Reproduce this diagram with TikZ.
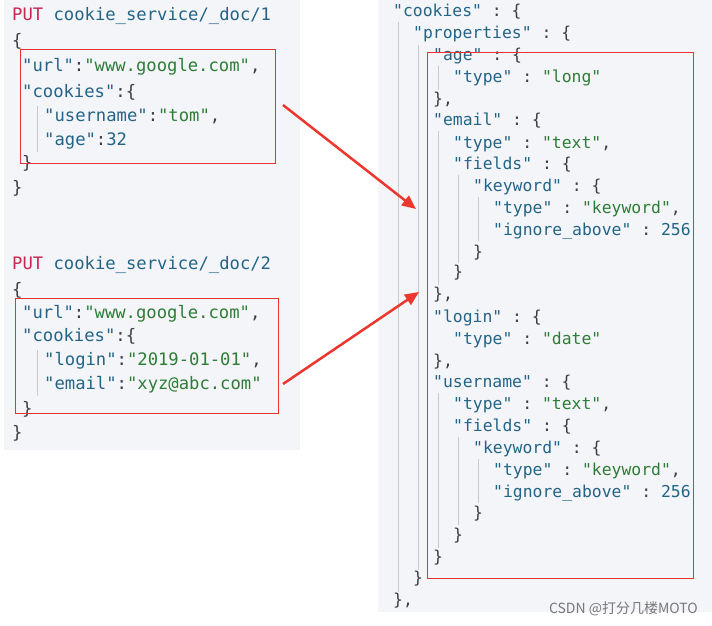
\documentclass[tikz,border=0pt]{standalone}
\usepackage{fontspec}
\setmonofont{DejaVu Sans Mono}
\newfontfamily\cjk{Noto Sans CJK SC}
\usetikzlibrary{arrows.meta}
\definecolor{kc}{RGB}{35,100,135}
\definecolor{sc}{RGB}{45,125,55}
\definecolor{bc}{RGB}{60,60,70}
\definecolor{pc}{RGB}{200,40,80}
\definecolor{bg}{RGB}{244,245,248}
\definecolor{gl}{RGB}{200,200,205}
\newcommand\kk[1]{\textcolor{kc}{#1}}
\newcommand\ssx[1]{\textcolor{sc}{#1}}
\tikzset{code/.style={anchor=base west,inner sep=0pt,font=\ttfamily\fontsize{17.2}{17}\selectfont,text=bc},
 rcode/.style={code,font=\ttfamily\fontsize{16.4}{17}\selectfont},
 redbox/.style={draw={rgb,255:red,235;green,50;blue,50},line width=1pt},
 guide/.style={draw=gl,line width=0.8pt},
 redarrow/.style={draw={rgb,255:red,235;green,55;blue,45},line width=2.5pt,-{Triangle[length=14pt,width=12pt]}}}
\begin{document}
\begin{tikzpicture}[x=1pt,y=-1pt]
\useasboundingbox (0,0) rectangle (712,626);
\fill[white] (0,0) rectangle (712,626);
\fill[bg] (4,0) rectangle (300,450);
\fill[bg] (378,0) rectangle (712,612);
% left panel
\node[code] (a1) at (12,21) {\textcolor{pc}{PUT} \kk{cookie\_service/\_doc/1}};
\node[code] (a2) at (12,47) {\{};
\node[code] (a3) at (22,71) {\kk{"url"}:\ssx{"www.google.com"},};
\node[code] (a4) at (22,97) {\kk{"cookies"}:\{};
\node[code] (a5) at (44,121) {\kk{"username"}:\ssx{"tom"},};
\node[code] (a6) at (44,145) {\kk{"age"}:\kk{32}};
\node[code] (a7) at (22,168) {\}};
\node[code] (a8) at (12,193) {\}};
\draw[guide] (37,106) -- (37,152);
\node[code] (b1) at (12,269) {\textcolor{pc}{PUT} \kk{cookie\_service/\_doc/2}};
\node[code] (b2) at (12,295) {\{};
\node[code] (b3) at (22,318) {\kk{"url"}:\ssx{"www.google.com"},};
\node[code] (b4) at (22,341) {\kk{"cookies"}:\{};
\node[code] (b5) at (44,365) {\kk{"login"}:\ssx{"2019-01-01"},};
\node[code] (b6) at (44,389) {\kk{"email"}:\ssx{"xyz@abc.com"}};
\node[code] (b7) at (22,414) {\}};
\node[code] (b8) at (12,438) {\}};
\draw[guide] (37,350) -- (37,396);
\draw[redbox] (20,50) rectangle (275,163);
\draw[redbox] (15,298) rectangle (278,413);
% right panel
\node[rcode] (r1) at (393,17) {\kk{"cookies"} : \{};
\node[rcode] (r2) at (413,39) {\kk{"properties"} : \{};
\node[rcode] (r3) at (433,61) {\kk{"age"} : \{};
\node[rcode] (r4) at (453,82) {\kk{"type"} : \ssx{"long"}};
\node[rcode] (r5) at (433,104) {\},};
\node[rcode] (r6) at (433,125) {\kk{"email"} : \{};
\node[rcode] (r7) at (453,148) {\kk{"type"} : \ssx{"text"},};
\node[rcode] (r8) at (453,169) {\kk{"fields"} : \{};
\node[rcode] (r9) at (473,191) {\kk{"keyword"} : \{};
\node[rcode] (r10) at (493,213) {\kk{"type"} : \ssx{"keyword"},};
\node[rcode] (r11) at (493,235) {\kk{"ignore\_above"} : \kk{256}};
\node[rcode] (r12) at (473,257) {\}};
\node[rcode] (r13) at (453,277) {\}};
\node[rcode] (r14) at (433,299) {\},};
\node[rcode] (r15) at (433,322) {\kk{"login"} : \{};
\node[rcode] (r16) at (453,344) {\kk{"type"} : \ssx{"date"}};
\node[rcode] (r17) at (433,366) {\},};
\node[rcode] (r18) at (433,387) {\kk{"username"} : \{};
\node[rcode] (r19) at (453,409) {\kk{"type"} : \ssx{"text"},};
\node[rcode] (r20) at (453,431) {\kk{"fields"} : \{};
\node[rcode] (r21) at (473,453) {\kk{"keyword"} : \{};
\node[rcode] (r22) at (493,475) {\kk{"type"} : \ssx{"keyword"},};
\node[rcode] (r23) at (493,497) {\kk{"ignore\_above"} : \kk{256}};
\node[rcode] (r24) at (473,518) {\}};
\node[rcode] (r25) at (453,540) {\}};
\node[rcode] (r26) at (433,562) {\}};
\node[rcode] (r27) at (413,583) {\}};
\node[rcode] (r28) at (393,605) {\},};
\draw[guide] (398,22) -- (398,592);
\draw[guide] (418,45) -- (418,570);
\draw[guide] (438,66) -- (438,90);
\draw[guide] (438,131) -- (438,285);
\draw[guide] (458,175) -- (458,263);
\draw[guide] (478,197) -- (478,241);
\draw[guide] (438,393) -- (438,548);
\draw[guide] (458,437) -- (458,525);
\draw[guide] (478,459) -- (478,503);
\draw[redbox] (427,53) rectangle (693,578);
% arrows
\coordinate (s1) at (283,105); \coordinate (e1) at (416,209);
\coordinate (s2) at (283,384); \coordinate (e2) at (419,292);
\draw[redarrow] (s1) -- (e1);
\draw[redarrow] (s2) -- (e2);
\node[anchor=base east,inner sep=0pt,text={rgb,255:red,120;green,120;blue,120},font=\cjk\fontsize{14}{14}\selectfont] (wm) at (698,613) {CSDN @打分几楼MOTO};
\end{tikzpicture}
\end{document}
